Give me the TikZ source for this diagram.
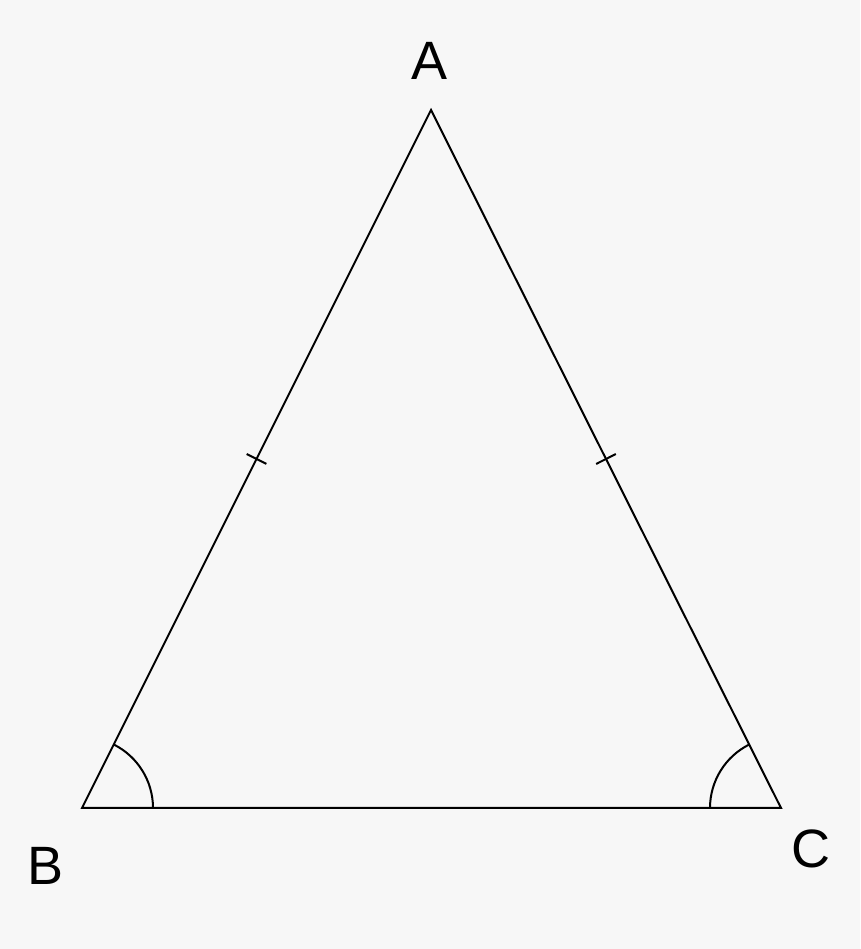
\documentclass[tikz,border=0pt]{standalone}
\usepackage{fontspec}
\setmainfont{Liberation Sans}
\usetikzlibrary{calc}
\definecolor{bgGray}{HTML}{F7F7F7}

\begin{document}
\begin{tikzpicture}[x=1pt,y=1pt,line width=2pt,
    vlabel/.style={inner sep=0pt,font=\fontsize{54}{60}\selectfont}]

        \fill[bgGray] (0,0) rectangle (860,949);
        \useasboundingbox (0,0) rectangle (860,949);
        \coordinate (A) at (431,839);
        \coordinate (B) at (82,141);
        \coordinate (C) at (781,141);
        \node[vlabel] (LA) at (430,888) {A};
        \node[vlabel] (LB) at (46,83.5) {B};
        \node[vlabel] (LC) at (811,100.5) {C};
        \draw (A) -- (B) -- (C) -- cycle;
        \coordinate (MAB) at ($(A)!0.5!(B)$);
        \coordinate (MAC) at ($(A)!0.5!(C)$);
        \draw ($(MAB)!11pt!90:(A)$) -- ($(MAB)!11pt!-90:(A)$);
        \draw ($(MAC)!11pt!90:(A)$) -- ($(MAC)!11pt!-90:(A)$);
        \draw (B) ++(71,0) arc[start angle=0, end angle=63.43, radius=71];
        \draw (C) ++(-71,0) arc[start angle=180, end angle=116.57, radius=71];
            \end{tikzpicture}
\end{document}
